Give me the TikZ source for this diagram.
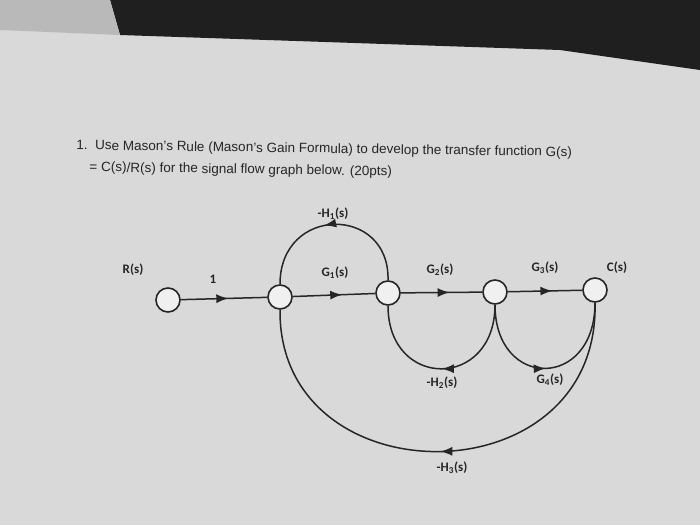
\documentclass[tikz,border=0pt]{standalone}
\usepackage{fontspec}
\setmainfont{Liberation Sans}
\newfontfamily\lab{Carlito}
\usetikzlibrary{decorations.markings,arrows.meta}
\begin{document}
\begin{tikzpicture}[x=1pt,y=-1pt,
  nd/.style={circle,draw=black!85,line width=1.6pt,fill=white!88!gray,minimum size=24pt,inner sep=0pt},
  br/.style={line width=1.5pt,draw=black!85},
  midarrow/.style={postaction={decorate},decoration={markings,mark=at position #1 with {\arrow{Latex[length=12pt,width=9pt]}}}},
  lb/.style={font=\lab\bfseries\fontsize{13}{15}\selectfont,text=black!85},
  qt/.style={font=\fontsize{13.5}{16}\selectfont,text=black!85,anchor=west}]
\useasboundingbox (0,0) rectangle (700,525);
\fill[gray!30!white] (0,0) rectangle (700,525);
\fill[black!88] (110,0) -- (700,0) -- (700,70) -- (560,50) -- (120,35) -- cycle;
\fill[gray!55] (0,0) -- (110,0) -- (120,35) -- (0,30) -- cycle;
\node[qt,rotate=-0.8] (q1) at (73,146) {1.\ \ Use Mason's Rule (Mason's Gain Formula) to develop the transfer function G(s)};
\node[qt,rotate=-0.8] (q2) at (86,168) {= C(s)/R(s) for the signal flow graph below. (20pts)};
\node[nd] (n1) at (168,300) {};
\node[nd] (n2) at (280,297) {};
\node[nd] (n3) at (388,293) {};
\node[nd] (n4) at (495,292) {};
\node[nd] (n5) at (595,290) {};
\draw[br,midarrow=0.55] (n1) -- (n2);
\draw[br,midarrow=0.6] (n2) -- (n3);
\draw[br,midarrow=0.6] (n3) -- (n4);
\draw[br,midarrow=0.6] (n4) -- (n5);
\draw[br,midarrow=0.55] (n3.north) .. controls (390,205) and (280,205) .. (n2.north);
\draw[br,midarrow=0.5] (n4.south) .. controls (495,390) and (388,390) .. (n3.south);
\draw[br,midarrow=0.5] (n4.south) .. controls (495,390) and (595,390) .. (n5.south);
\draw[br,midarrow=0.5] (n5.south) .. controls (600,500) and (278,500) .. (n2.south);
\node[lb] (lr) at (133,270) {R(s)};
\node[lb] (l1) at (213,279) {1};
\node[lb] (lg1) at (335,273) {G\textsubscript{1}(s)};
\node[lb] (lg2) at (440,270) {G\textsubscript{2}(s)};
\node[lb] (lg3) at (545,268) {G\textsubscript{3}(s)};
\node[lb] (lc) at (617,268) {C(s)};
\node[lb] (lh1) at (333,214) {-H\textsubscript{1}(s)};
\node[lb] (lh2) at (442,383) {-H\textsubscript{2}(s)};
\node[lb] (lg4) at (550,380) {G\textsubscript{4}(s)};
\node[lb] (lh3) at (452,468) {-H\textsubscript{3}(s)};
\end{tikzpicture}
\end{document}
